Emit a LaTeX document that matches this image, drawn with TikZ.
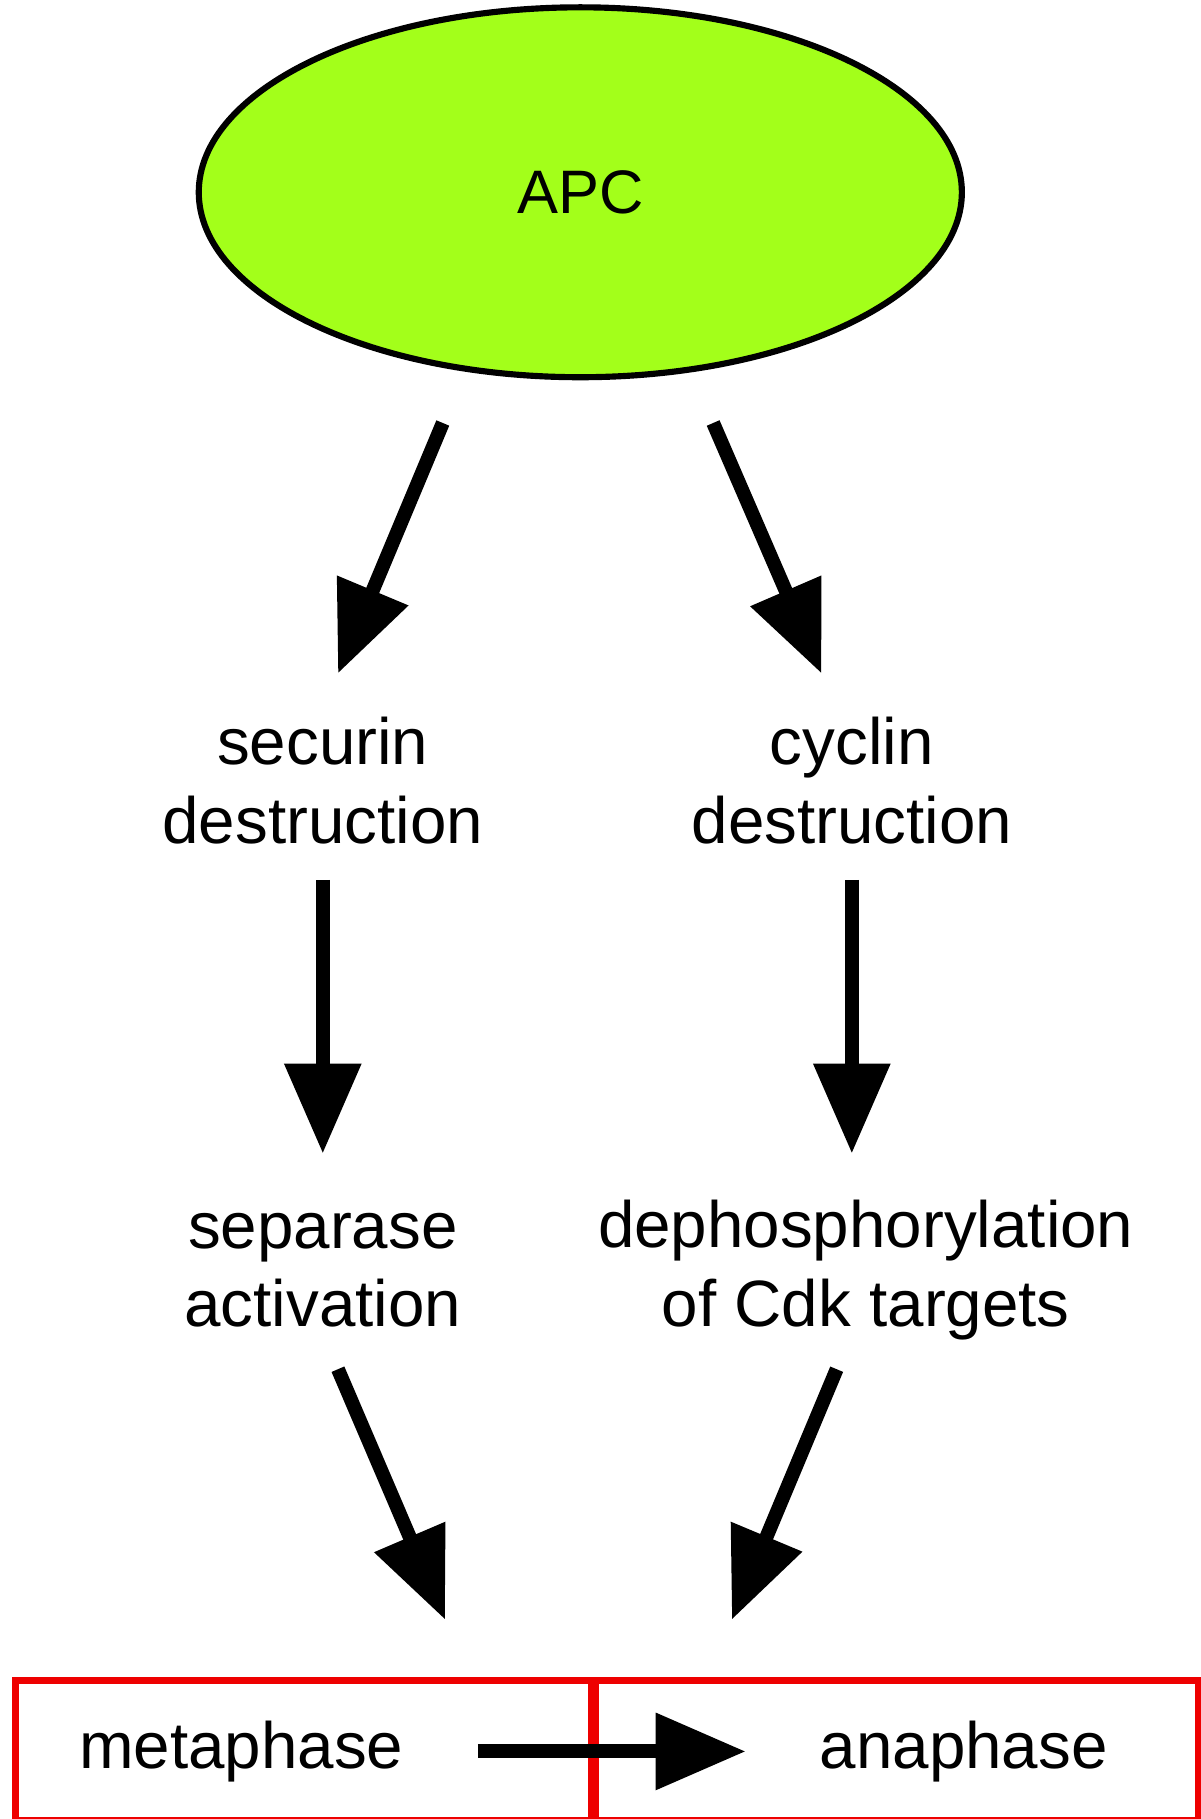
\documentclass[tikz,border=0pt]{standalone}
\usepackage{fontspec}
\setmainfont{Liberation Sans}
\usetikzlibrary{arrows.meta,shapes.geometric}
\definecolor{apcgreen}{RGB}{163,255,26}
\definecolor{boxred}{RGB}{238,0,0}
\begin{document}
\begin{tikzpicture}[x=0.02cm,y=-0.02cm,
  big/.style={line width=6.8pt,-{Triangle[length=44pt,width=36pt]}},
  lbl/.style={align=center,font=\fontsize{32}{38.5}\selectfont},
  box/.style={draw=boxred,line width=3.5pt}]
\useasboundingbox (0,0) rectangle (1030,1561);
\node[ellipse,draw,line width=3pt,fill=apcgreen,minimum width=13.1cm,minimum height=6.35cm,inner sep=0,
  font=\fontsize{30}{36}\selectfont] (apc) at (498,165) {APC};
\node[lbl] (sec) at (277,670) {securin\\destruction};
\node[lbl] (cyc) at (731,670) {cyclin\\destruction};
\node[lbl] (sep) at (277,1090) {separase\\activation};
\node[lbl] (dep) at (743,1090) {dephosphorylation\\of Cdk targets};
\node[box,minimum width=9.9cm,minimum height=2.4cm,anchor=north west] (meta) at (10,1439) {};
\node[box,minimum width=10.36cm,minimum height=2.4cm,anchor=north west] (ana) at (508,1439) {};
\node[lbl] (metat) at (207,1503) {metaphase};
\node[lbl] (anat) at (827,1503) {anaphase};
\coordinate (a1s) at (380,363); \coordinate (a1e) at (290,578);
\coordinate (a2s) at (612,363); \coordinate (a2e) at (705,578);
\coordinate (a3s) at (277,755); \coordinate (a3e) at (277,990);
\coordinate (a4s) at (731,755); \coordinate (a4e) at (731,990);
\coordinate (a5s) at (290,1175); \coordinate (a5e) at (382,1390);
\coordinate (a6s) at (718,1175); \coordinate (a6e) at (628,1390);
\coordinate (a7s) at (410,1503); \coordinate (a7e) at (640,1503);
\foreach \i in {1,...,7} \draw[big] (a\i s) -- (a\i e);
\end{tikzpicture}
\end{document}
